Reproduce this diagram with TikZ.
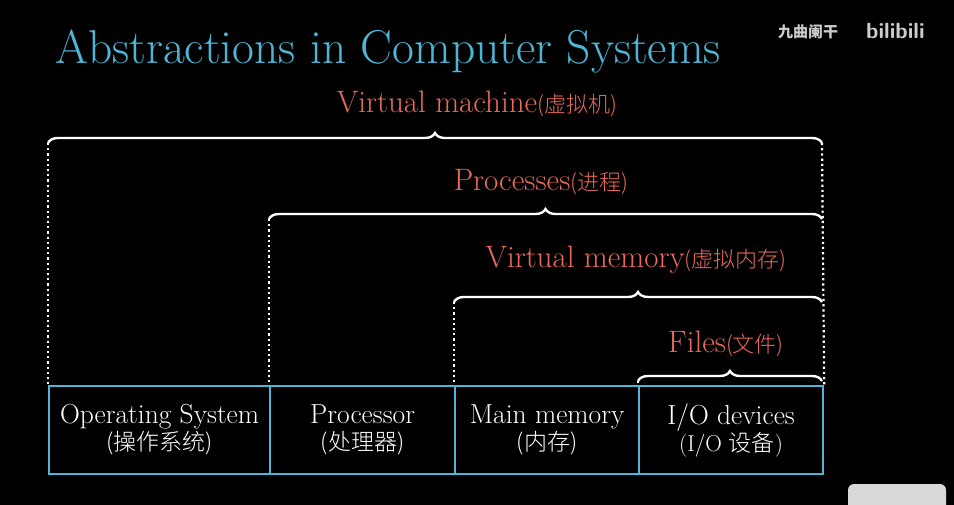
\documentclass[tikz,border=0pt]{standalone}
\usepackage{fontspec}
\newfontfamily\cjk{Noto Sans CJK SC Light}
\newfontfamily\cjkb{Noto Sans CJK SC}
\usetikzlibrary{decorations.pathreplacing}
\definecolor{cy}{HTML}{4DB6D6}
\definecolor{rd}{HTML}{EA6A5C}
\begin{document}
\begin{tikzpicture}[x=1pt,y=-1pt,
  box/.style={draw=cy,line width=2.2pt,minimum height=88pt,anchor=north west,text=white,align=center,font=\fontsize{27.5}{28}\selectfont,inner sep=0pt},
  br/.style={draw=white,line width=2.4pt,decorate,decoration={brace,amplitude=10pt}},
  dot/.style={draw=white,line width=2.2pt,dash pattern=on 2.2pt off 3pt},
  lab/.style={text=rd,font=\fontsize{31}{32}\selectfont,inner sep=0pt}]
\fill[black] (0,0) rectangle (954,505);
\useasboundingbox (0,0) rectangle (954,505);
\node[text=cy,font=\fontsize{47.5}{50}\selectfont,anchor=west,inner sep=0pt] (title) at (55,52) {Abstractions in Computer Systems};
\node[text=white!80!black,font=\cjkb\bfseries\fontsize{15}{16}\selectfont,anchor=west,inner sep=0pt] (wm) at (778,32) {九曲阑干};
\node[text=white!80!black,font=\sffamily\bfseries\fontsize{22}{22}\selectfont,anchor=west,inner sep=0pt] (bb) at (866,31) {bilibili};
\node[box,minimum width=221pt] (os) at (48,385) {Operating System\\[-1pt]{\cjk\fontsize{23}{24}\selectfont(操作系统)}};
\node[box,minimum width=185pt] (cpu) at (269,385) {Processor\\[-1pt]{\cjk\fontsize{23}{24}\selectfont(处理器)}};
\node[box,minimum width=184pt] (mem) at (454,385) {Main memory\\[-1pt]{\cjk\fontsize{23}{24}\selectfont(内存)}};
\node[box,minimum width=184pt] (io) at (638,385) {I/O devices\\[-1pt]{\fontsize{23}{24}\selectfont(I/O {\cjk 设备})}};
\coordinate (a1) at (48,143); \coordinate (a2) at (822,143);
\coordinate (b1) at (269,219); \coordinate (b2) at (822,219);
\coordinate (c1) at (454,302); \coordinate (c2) at (822,302);
\coordinate (d1) at (638,381); \coordinate (d2) at (822,381);
\draw[br] (a1) -- (a2);
\draw[br] (b1) -- (b2);
\draw[br] (c1) -- (c2);
\draw[br] (d1) -- (d2);
\draw[dot] (a1) -- (os.north west);
\draw[dot] (a2) -- (io.north east);
\draw[dot] (b1) -- (cpu.north west);
\draw[dot] (c1) -- (mem.north west);
\draw[dot] (d1) -- (io.north west);
\node[lab] (l1) at (477,104) {Virtual machine{\cjk\fontsize{22}{24}\selectfont(虚拟机)}};
\node[lab] (l2) at (541,182) {Processes{\cjk\fontsize{22}{24}\selectfont(进程)}};
\node[lab] (l3) at (636,260) {Virtual memory{\cjk\fontsize{22}{24}\selectfont(虚拟内存)}};
\node[lab] (l4) at (726,344) {Files{\cjk\fontsize{22}{24}\selectfont(文件)}};
\fill[white!85!black,rounded corners=6pt] (848,484) rectangle (946,515);
\end{tikzpicture}
\end{document}
